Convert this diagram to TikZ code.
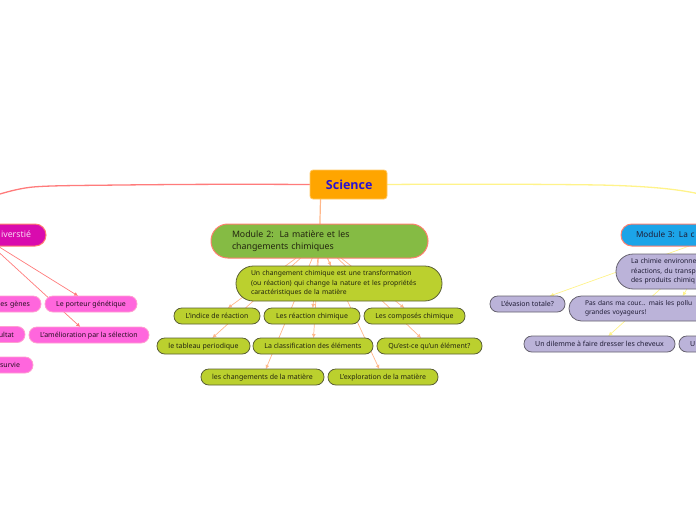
\documentclass[tikz,border=0pt]{standalone}
\usepackage{fontspec}
\setmainfont{Noto Sans}
\newfontfamily\rootfont{Open Sans}
\usetikzlibrary{arrows.meta,backgrounds}
\definecolor{orangeroot}{HTML}{FFA500}
\definecolor{rootink}{HTML}{2A12D0}
\definecolor{olivefill}{HTML}{BBD02E}
\definecolor{olivedge}{HTML}{5A5F35}
\definecolor{modgreen}{HTML}{85BB44}
\definecolor{salmon}{HTML}{FF7F6F}
\definecolor{peach}{HTML}{FFB78A}
\definecolor{paleyellow}{HTML}{FFF38A}
\definecolor{redline}{HTML}{FF7B7B}
\definecolor{pinkfill}{HTML}{FF66DD}
\definecolor{pinkedge}{HTML}{FF9FD0}
\definecolor{magentafill}{HTML}{D90BAE}
\definecolor{bluefill}{HTML}{1CA4E8}
\definecolor{lavfill}{HTML}{BBB3D9}
\definecolor{lavedge}{HTML}{66626F}
\definecolor{inkdark}{HTML}{23250F}
\definecolor{inklav}{HTML}{1F1C35}
\tikzset{
  base/.style={rectangle,inner sep=0pt,outer sep=0pt,line width=0.8pt},
  sz/.style n args={2}{minimum width=#1,minimum height=#2,rounded corners=#2/2-0.2pt},
  one/.style={text height=5.2pt,text depth=0pt},
  rootbox/.style={base,fill=orangeroot,draw=orangeroot!60!white,rounded corners=3pt,text=rootink,font=\rootfont\bfseries\fontsize{12.5}{14}\selectfont},
  modbox/.style={base,draw=salmon,line width=1pt,font=\fontsize{8.8}{12}\selectfont},
  olive/.style={base,fill=olivefill,draw=olivedge,text=inkdark,font=\fontsize{7}{9.4}\selectfont},
  pink/.style={base,fill=pinkfill,draw=pinkedge,text=black!85!pinkfill,font=\fontsize{7}{9.4}\selectfont},
  lav/.style={base,fill=lavfill,draw=lavedge,text=inklav,font=\fontsize{7}{9.4}\selectfont},
  link2/.style={draw=peach,line width=0.7pt,-{Latex[length=4pt,width=4pt]}},
  link3/.style={draw=paleyellow,line width=0.7pt,-{Latex[length=4pt,width=4pt]}},
  link1/.style={draw=redline,line width=0.7pt,-{Latex[length=4pt,width=4pt]}},
}
\begin{document}
\begin{tikzpicture}[x=1pt,y=-1pt]
\useasboundingbox (0,0) rectangle (696,520);
\clip (0,0) rectangle (696,520);
% root
\node[rootbox,minimum width=77pt,minimum height=29pt,text width=48pt,align=right] (root) at (348.5,184.5) {Science};
% module 2
\node[modbox,fill=modgreen,text=inkdark,sz={217pt}{34pt},text width=175pt,align=left] (m2) at (319.5,241) {Module 2:\ \ La matière et les\\changements chimiques};
\node[olive,font=\fontsize{6.8}{9.4}\selectfont,sz={206pt}{35pt},text width=176pt,align=left] (desc) at (339,283.5) {Un changement chimique est une transformation\\(ou réaction) qui change la nature et les propriétés\\caractéristiques de la matière};
\node[olive,one,sz={86pt}{16pt}] (indice) at (217,316) {L'indice de réaction};
\node[olive,one,sz={96pt}{16pt}] (reaction) at (312,316) {Les réaction chimique};
\node[olive,one,sz={101pt}{16pt}] (composes) at (414.5,316) {Les composés chimique};
\node[olive,one,sz={93pt}{16pt}] (tableau) at (203.5,346) {le tableau periodique};
\node[olive,one,sz={120pt}{16pt}] (classif) at (313,346) {La classification des éléments};
\node[olive,one,sz={105pt}{16pt}] (element) at (429.5,346) {Qu'est-ce qu'un élément?};
\node[olive,one,sz={123pt}{16pt}] (changements) at (262.5,377) {les changements de la matière};
\node[olive,one,sz={110pt}{16pt}] (explo) at (383,377) {L'exploration de la matière};
% module 1 (cut by the left edge)
\node[modbox,one,fill=magentafill,text=white!85!magentafill,sz={132pt}{22pt},text width=102pt,align=right] (m1) at (-20,235) {iverstié};
\node[pink,one,sz={100pt}{16pt},text width=78pt,align=right] (genes) at (-9,304) {les gènes};
\node[pink,one,sz={92pt}{16pt}] (porteur) at (91,304) {Le porteur génétique};
\node[pink,one,sz={100pt}{16pt},text width=78pt,align=right] (resultat) at (-25,334.5) {ultat};
\node[pink,one,sz={120pt}{16pt}] (amelio) at (89,335) {L'amélioration par la sélection};
\node[pink,one,sz={100pt}{16pt},text width=74pt,align=right] (survie) at (-17,365) {survie};
% module 3 (cut by the right edge)
\node[modbox,one,font=\fontsize{8.2}{12}\selectfont,fill=bluefill,text=inklav,sz={198pt}{22pt},text width=168pt,align=left] (m3) at (720,235) {Module 3: La c};
\node[lav,font=\fontsize{6.8}{9.4}\selectfont,sz={206pt}{35pt},text width=176pt,align=left] (chimie) at (719,271.5) {La chimie environne\\réactions, du transp\\des produits chimiq};
\node[lav,one,sz={75pt}{16pt}] (evasion) at (527.5,304) {L'évasion totale?};
\node[lav,font=\fontsize{6.6}{9.4}\selectfont,sz={212pt}{25pt},text width=180pt,align=left] (pas) at (675,308.5) {Pas dans ma cour... mais les pollu\\grandes voyageurs!};
\node[lav,one,sz={151pt}{16pt}] (dilemme) at (599.5,344) {Un dilemme à faire dresser les cheveux};
\node[lav,one,sz={100pt}{16pt},text width=78pt,align=left] (u) at (729,344) {U};
\begin{scope}[on background layer]
  % branches from the root
  \draw[draw=peach,line width=1.2pt] (root.south -| 320.5,0) -- (m2);
  \draw[draw=redline,line width=1.3pt] (root.west) .. controls (220,184) and (170,184.5) .. (120,185)
     .. controls (80,185.5) and (50,185.5) .. (33,187)
     .. controls (22,188) and (10,191) .. (0,194)
     .. controls (-8,197) and (-20,210) .. (m1.north);
  \draw[draw=paleyellow,line width=1.3pt] (root.east) .. controls (450,184) and (530,184) .. (600,185)
     .. controls (640,186) and (670,188) .. (695,193)
     .. controls (705,195) and (715,210) .. (m3.north);
  % module 1
  \draw[link1] (m1) -- (porteur);
  \draw[link1] (m1) -- (amelio);
  % module 2
  \foreach \t in {desc,indice,reaction,composes,tableau,classif,element,changements,explo}
    \draw[link2] (m2) -- (\t);
  % module 3
  \foreach \t in {chimie,evasion,pas,dilemme,u}
    \draw[link3] (m3) -- (\t);
\end{scope}
\end{tikzpicture}
\end{document}
